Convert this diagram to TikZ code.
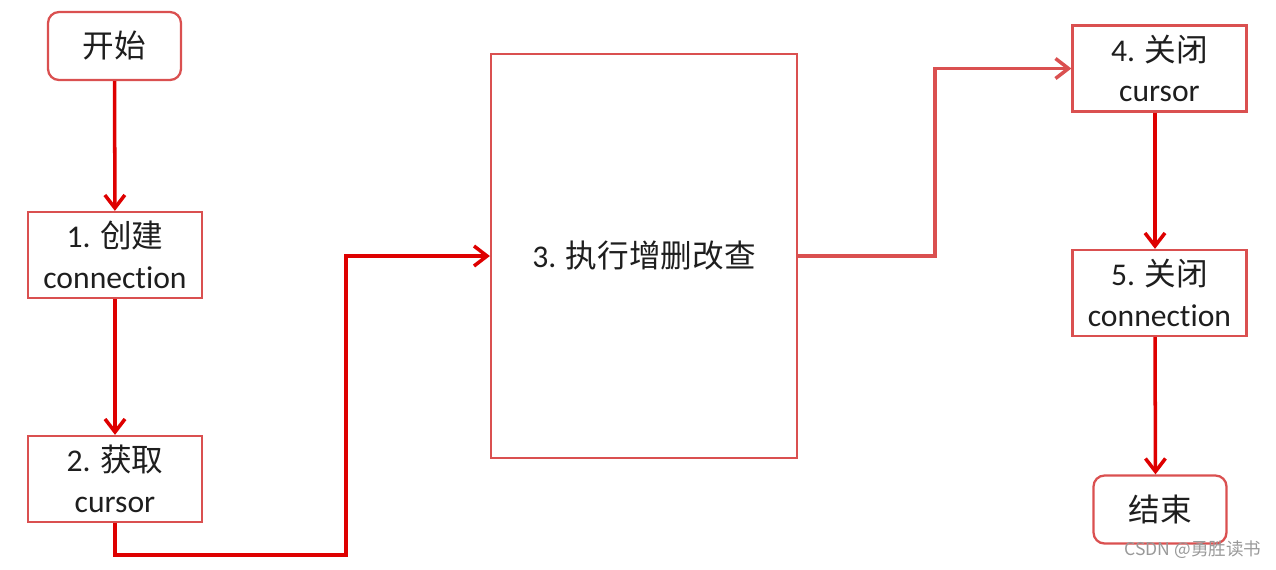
\documentclass[tikz,border=0pt]{standalone}
\usepackage{fontspec}
\setmainfont{Carlito}[Ligatures=NoCommon]
\newfontfamily\cjk{Noto Sans CJK SC}
\usetikzlibrary{arrows.meta}
\definecolor{boxred}{RGB}{218,80,80}
\definecolor{flowred}{RGB}{222,0,0}
\definecolor{inkgray}{RGB}{30,30,30}

\tikzset{
  stepbox/.style={draw=boxred, line width=1.3pt, minimum width=3.48cm, minimum height=1.72cm,
    align=center, text=inkgray, inner sep=0pt, font=\fontsize{18}{23}\selectfont},
  endbox/.style={stepbox, rounded corners=0.22cm, minimum width=2.66cm, minimum height=1.36cm},
  flow/.style={draw=flowred, line width=2pt,
    -{Straight Barb[length=0.26cm, width=0.4cm, line width=2pt]}},
}

\begin{document}
\begin{tikzpicture}[x=0.02cm, y=-0.02cm]
  \useasboundingbox (0,0) rectangle (1276,569);

  % left column
  \node[endbox] (start) at (114.5,46) {\cjk 开始};
  \node[stepbox] (s1) at (115,255) {1. {\cjk 创建}\\connection};
  \node[stepbox] (s2) at (115,479) {2. {\cjk 获取}\\cursor};

  % middle
  \node[stepbox, minimum width=6.12cm, minimum height=8.08cm] (s3) at (644,256)
    {3. {\cjk 执行增删改查}};

  % right column
  \node[stepbox] (s4) at (1159.5,68.5) {4. {\cjk 关闭}\\cursor};
  \node[stepbox] (s5) at (1159.5,293) {5. {\cjk 关闭}\\connection};
  \node[endbox] (stop) at (1160,509.5) {\cjk 结束};

  % bends
  \coordinate (low) at (346,555);
  \coordinate (high) at (935,150);

  % flow
  \draw[flow] (start) -- (s1);
  \draw[flow] (s1) -- (s2);
  \draw[flow] (s2.south) |- (low) |- (s3.west);
  \draw[flow, draw=boxred] (s3.east) -| (high) |- (s4.west);
  \draw[flow] ([xshift=-0.09cm]s4.south) -- ([xshift=-0.09cm]s5.north);
  \draw[flow] ([xshift=-0.09cm]s5.south) -- ([xshift=-0.09cm]stop.north);

  % watermark
  \node[text=black!40, font=\cjk\fontsize{10}{12}\selectfont] (mark) at (1193,550) {CSDN @勇胜读书};
\end{tikzpicture}
\end{document}
